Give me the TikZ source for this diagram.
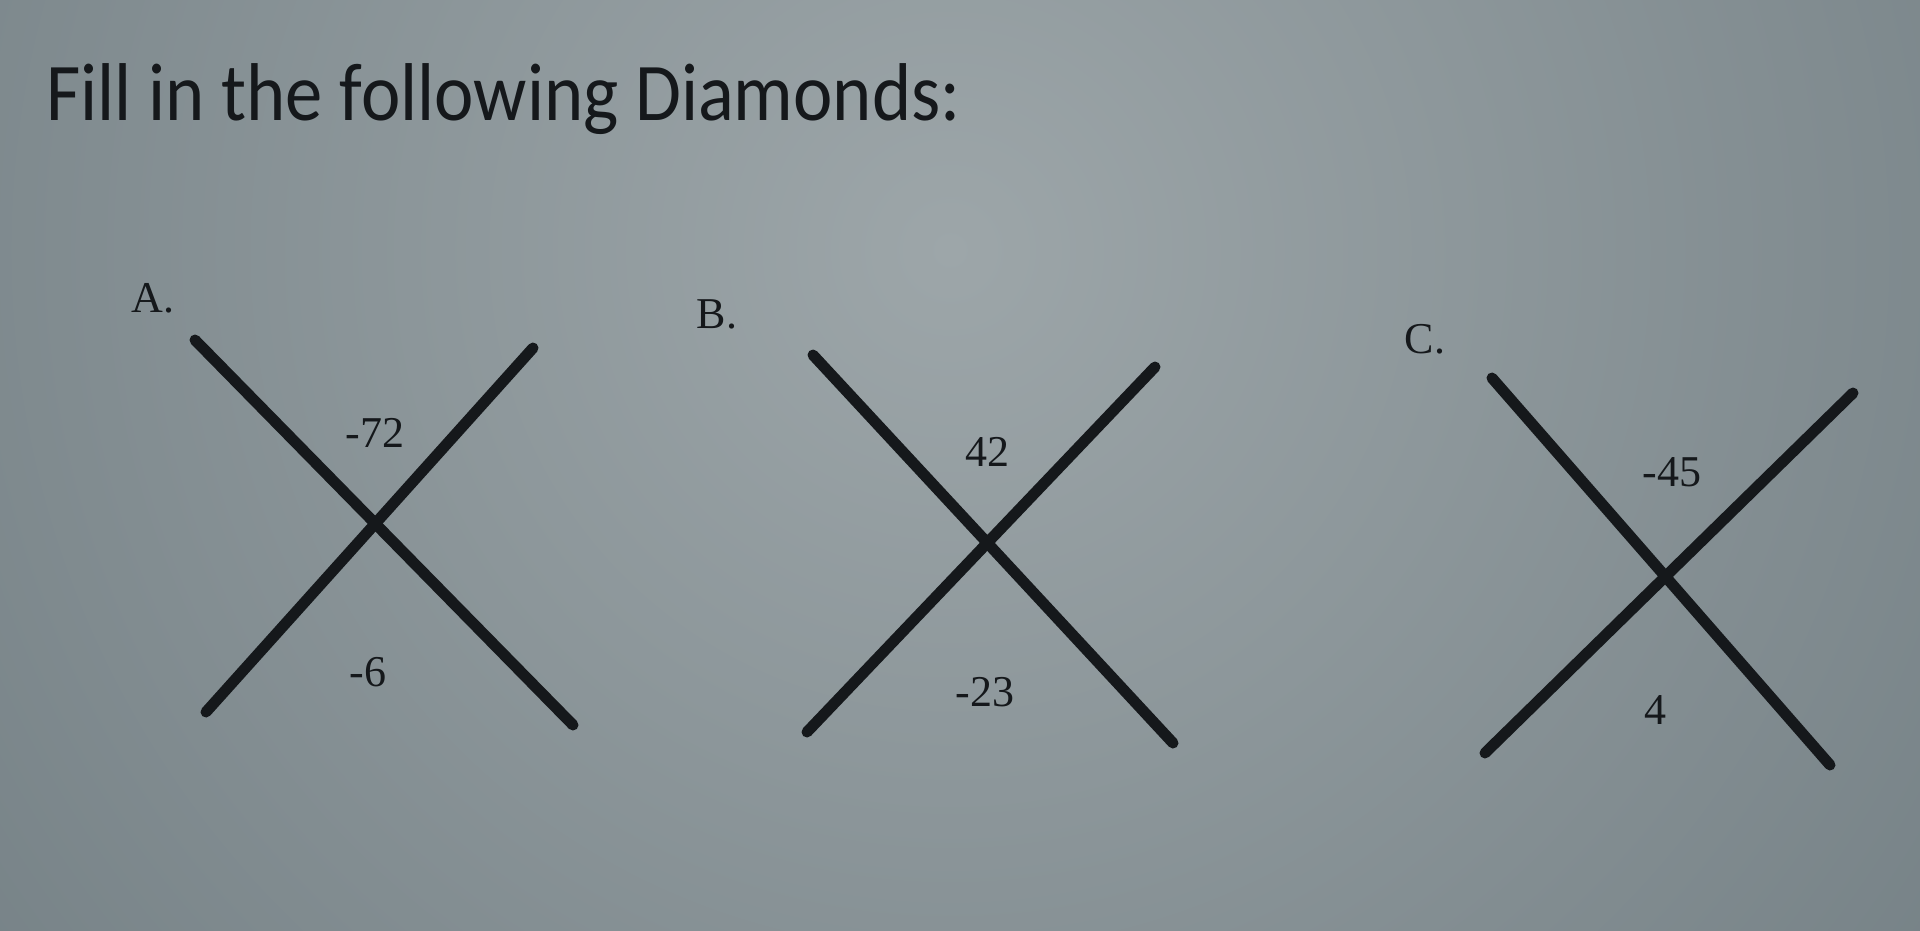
\documentclass[tikz,border=0pt]{standalone}
\usepackage{fontspec}
\setmainfont{Liberation Serif}
\newfontfamily\titlefont{Carlito}
\definecolor{bgl}{HTML}{9DA6A9}
\definecolor{bgd}{HTML}{717D82}
\definecolor{ink}{HTML}{15181B}
\tikzset{
  xline/.style={draw=ink, line width=11pt, line cap=round},
  num/.style={text=ink, inner sep=0pt, font=\fontsize{44}{48}\selectfont},
  lbl/.style={text=ink, inner sep=0pt, font=\fontsize{44}{48}\selectfont},
}
\begin{document}
\begin{tikzpicture}[x=1pt,y=-1pt]
\useasboundingbox (0,0) rectangle (1920,930);
\begin{scope}
\clip (0,0) rectangle (1920,930);
\shade[inner color=bgl, outer color=bgd] (950,250) circle (1400);
\end{scope}
% title
\node[anchor=base west, inner sep=0pt, text=ink, xscale=0.91, font=\titlefont\fontsize{82}{90}\selectfont] (title) at (46,120) {Fill in the following Diamonds:};
% labels
\node[lbl] (la) at (153,298) {A.};
\node[lbl] (lb) at (717,314) {B.};
\node[lbl] (lc) at (1425,339) {C.};
% A
\coordinate (a1) at (195,340); \coordinate (a2) at (573,725);
\coordinate (a3) at (533,348); \coordinate (a4) at (206,712);
\draw[xline] (a1) -- (a2);
\draw[xline] (a3) -- (a4);
\node[num] (at) at (375,433) {-72};
\node[num] (ab) at (368,672) {-6};
% B
\coordinate (b1) at (813,355); \coordinate (b2) at (1173,743);
\coordinate (b3) at (1155,367); \coordinate (b4) at (807,732);
\draw[xline] (b1) -- (b2);
\draw[xline] (b3) -- (b4);
\node[num] (bt) at (987,452) {42};
\node[num] (bb) at (985,692) {-23};
% C
\coordinate (c1) at (1492,378); \coordinate (c2) at (1830,765);
\coordinate (c3) at (1853,393); \coordinate (c4) at (1485,753);
\draw[xline] (c1) -- (c2);
\draw[xline] (c3) -- (c4);
\node[num] (ct) at (1672,472) {-45};
\node[num] (cb) at (1655,710) {4};
\end{tikzpicture}
\end{document}
